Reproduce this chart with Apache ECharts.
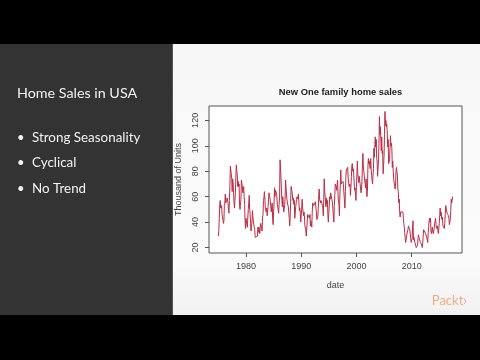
<!DOCTYPE html>
<html>
<head>
<meta charset="utf-8">
<script src="https://cdn.jsdelivr.net/npm/echarts@6/dist/echarts.min.js"></script>
<style>
html,body{margin:0;padding:0;width:480px;height:360px;overflow:hidden;background:#000;}
.bg{position:absolute;}
#chart{position:absolute;left:0;top:0;width:480px;height:360px;}
</style>
</head>
<body>
<div class="bg" style="left:0;top:44px;width:172px;height:271px;background:#333333;"></div>
<div class="bg" style="left:172px;top:44px;width:1px;height:271px;background:#555;"></div>
<div class="bg" style="left:173px;top:44px;width:307px;height:271px;background:linear-gradient(#f7f7f7 0%,#fbfbfb 80%,#f1f1f1 100%);"></div>
<div id="chart"></div>
<script>
// Monthly new one-family home sales (thousand units), starting January 1975
const startYear = 1975;
const sales1975_1984 = [
  29,34,44,54,57,51,51,53,46,46,46,39,
  41,53,55,62,55,56,57,59,58,55,49,47,
  57,68,84,81,78,74,64,74,71,63,55,51,
  57,63,75,85,80,77,68,72,68,70,53,50,
  53,58,73,72,68,63,64,68,60,54,41,35,
  43,44,44,36,44,50,55,61,50,46,39,33,
  37,40,49,44,45,38,36,34,28,29,27,29,
  28,29,36,32,36,34,31,36,39,40,39,33,
  44,46,57,59,64,59,51,50,48,51,45,48,
  52,58,63,61,59,58,52,48,53,55,42,38
];
const sales1985_1994 = [
  48,55,67,60,65,65,63,61,54,52,51,47,
  55,59,89,84,75,66,57,52,60,54,48,49,
  53,59,73,72,62,58,55,56,52,52,43,37,
  43,55,68,68,64,65,57,59,54,57,43,42,
  52,51,58,60,61,58,62,61,49,51,47,40,
  45,50,58,52,48,45,48,45,37,37,34,29,
  30,40,46,46,47,47,43,46,37,41,39,36,
  48,55,56,53,52,53,52,56,51,48,42,42,
  44,50,60,66,58,59,55,57,57,56,53,51,
  45,58,74,65,65,55,52,59,54,57,45,40
];
const sales1995_2004 = [
  47,47,60,58,63,64,64,63,55,54,44,40,
  53,61,70,71,68,65,66,73,62,56,54,45,
  61,69,81,70,71,71,69,72,67,62,61,51,
  64,75,81,82,82,83,75,75,68,69,70,61,
  67,76,84,86,80,82,78,78,65,67,61,57,
  67,78,88,78,77,71,76,73,70,71,63,65,
  72,85,94,84,80,79,73,72,67,74,65,60,
  66,84,90,86,88,84,82,90,82,77,73,70,
  76,82,98,91,101,107,99,105,90,88,76,75,
  89,102,123,109,115,105,96,107,94,96,78,84
];
const sales2005_2017 = [
  92,109,127,116,120,115,117,110,99,105,86,87,
  89,88,108,100,102,98,83,88,80,74,71,71,
  66,68,80,83,80,77,66,64,55,58,48,44,
  48,48,49,49,49,48,43,39,36,32,27,24,
  24,29,31,32,34,37,38,36,34,33,27,24,
  24,27,36,41,26,28,26,24,25,25,20,21,
  21,22,28,30,28,28,27,24,24,25,22,20,
  23,29,34,34,34,33,31,31,29,29,26,24,
  32,36,41,43,40,43,33,31,31,36,33,31,
  33,35,39,39,43,38,35,36,37,38,31,31,
  39,45,51,45,48,44,42,44,37,36,36,35,
  39,46,53,53,54,47,48,47,45,43,38,39,
  42,49,58,55,57,60
];
const xTicks = [1980, 1990, 2000, 2010];
const yTicks = [20, 40, 60, 80, 100, 120];
const chartTitle = 'New One family home sales';
const xName = 'date';
const yName = 'Thousand of Units';
const slideHeading = 'Home Sales in USA';
const bullets = ['Strong Seasonality', 'Cyclical', 'No Trend'];

const allSales = [].concat(sales1975_1984, sales1985_1994, sales1995_2004, sales2005_2017);
const seriesData = allSales.map((v, i) => [startYear + i / 12, v]);

const chart = echarts.init(document.getElementById('chart'), null, {renderer: 'canvas'});
const axisColor = '#555';
const labelColor = '#444';
const rFont = 'Liberation Sans, Arial, sans-serif';
const slideFont = 'Lato, Open Sans, sans-serif';

const graphics = [
  {type: 'text', x: 17, y: 93, style: {text: slideHeading, fill: '#f2f2f2', font: '14.3px ' + slideFont, verticalAlign: 'middle', align: 'left'}}
];
const bulletY = [137.5, 163, 188.5];
bullets.forEach((b, i) => {
  graphics.push({type: 'text', x: 17, y: bulletY[i], style: {text: '•', fill: '#f2f2f2', font: '13px ' + slideFont, verticalAlign: 'middle', align: 'left'}});
  graphics.push({type: 'text', x: 32, y: bulletY[i], style: {text: b, fill: '#f2f2f2', font: '13.4px ' + slideFont, verticalAlign: 'middle', align: 'left'}});
});
graphics.push({type: 'text', x: 467, y: 301, style: {text: 'Packt›', fill: '#f2ab82', font: '13px ' + slideFont, verticalAlign: 'middle', align: 'right'}});

chart.setOption({
  animation: false,
  backgroundColor: 'transparent',
  title: {
    text: chartTitle, left: 335.5, top: 82.5, textAlign: 'center',
    textStyle: {fontSize: 9.4, fontWeight: 'bold', fontFamily: rFont, color: '#222'}
  },
  graphic: graphics,
  grid: {left: 209, right: 18, top: 106, bottom: 107, show: true, backgroundColor: '#fff', borderColor: axisColor, borderWidth: 1},
  xAxis: {
    type: 'value', min: 1973.3, max: 2019.12,
    name: xName, nameLocation: 'middle', nameGap: 28,
    nameTextStyle: {fontSize: 9, fontFamily: rFont, color: labelColor},
    axisLine: {show: false},
    axisTick: {show: true, length: 4, lineStyle: {color: axisColor}, customValues: xTicks},
    axisLabel: {fontSize: 9, fontFamily: rFont, color: labelColor, margin: 9, customValues: xTicks, formatter: v => String(v)},
    splitLine: {show: false}
  },
  yAxis: {
    type: 'value', min: 15.7, max: 131.3,
    name: yName, nameLocation: 'middle', nameGap: 26, nameRotate: 90,
    nameTextStyle: {fontSize: 9, fontFamily: rFont, color: labelColor},
    axisLine: {show: false},
    axisTick: {show: true, length: 4, lineStyle: {color: axisColor}, customValues: yTicks},
    axisLabel: {fontSize: 9, fontFamily: rFont, color: labelColor, margin: 9, rotate: 90, customValues: yTicks, formatter: v => String(v)},
    splitLine: {show: false}
  },
  series: [{
    type: 'line', data: seriesData, showSymbol: false, symbol: 'none',
    lineStyle: {width: 1, color: '#bb2d45'}, itemStyle: {color: '#bb2d45'}
  }]
});
</script>
</body>
</html>
